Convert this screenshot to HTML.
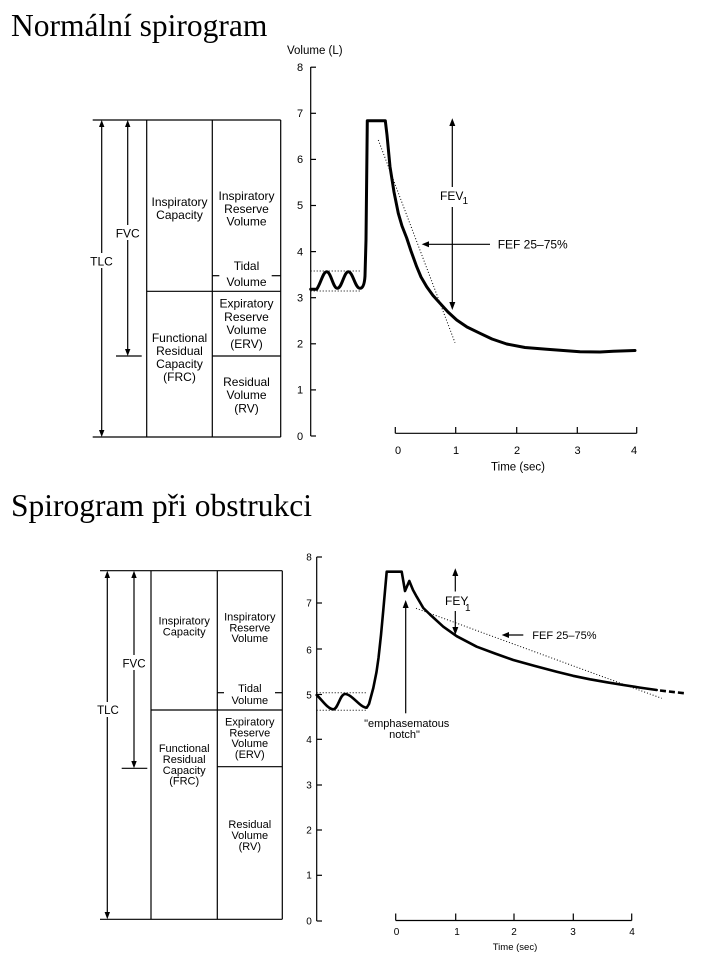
<!DOCTYPE html>
<html>
<head>
<meta charset="utf-8">
<style>
html,body{margin:0;padding:0;background:#fff;}
svg{display:block;}
.t{font-family:"Liberation Sans",Arial,sans-serif;fill:#000;}
.s{font-family:"Liberation Serif","Times New Roman",serif;fill:#000;}
</style>
</head>
<body>
<svg width="720" height="960" viewBox="0 0 720 960" xmlns="http://www.w3.org/2000/svg">
<rect width="720" height="960" fill="#fff"/>

<!-- ================= TOP ================= -->
<text class="s" x="11" y="36" font-size="31.5">Normální spirogram</text>

<g stroke="#000" stroke-width="1.2" fill="none">
  <line x1="92.7" y1="120" x2="280.7" y2="120"/>
  <line x1="92.7" y1="437" x2="280.7" y2="437"/>
  <line x1="146.7" y1="120" x2="146.7" y2="437"/>
  <line x1="212.3" y1="120" x2="212.3" y2="437"/>
  <line x1="280.7" y1="120" x2="280.7" y2="437"/>
  <line x1="146.7" y1="291.3" x2="280.7" y2="291.3"/>
  <line x1="212.3" y1="356" x2="280.7" y2="356"/>
  <line x1="116" y1="356" x2="141.7" y2="356"/>
  <line x1="212.3" y1="275.7" x2="219.3" y2="275.7"/>
  <line x1="271.7" y1="275.7" x2="280.7" y2="275.7"/>
  <line x1="101.7" y1="124" x2="101.7" y2="433"/>
  <line x1="127.7" y1="124" x2="127.7" y2="352"/>
</g>
<g fill="#000">
  <polygon points="101.7,120 99,127 104.4,127"/>
  <polygon points="101.7,437 99,430 104.4,430"/>
  <polygon points="127.7,120 125,127 130.4,127"/>
  <polygon points="127.7,356 125,349 130.4,349"/>
</g>
<rect x="89" y="253" width="25" height="15" fill="#fff"/>
<text class="t" x="101.5" y="265.5" font-size="12" text-anchor="middle">TLC</text>
<rect x="115" y="225" width="26" height="15" fill="#fff"/>
<text class="t" x="127.7" y="237.5" font-size="12" text-anchor="middle">FVC</text>

<g class="t" font-size="12" text-anchor="middle">
  <text x="179.5" y="206">Inspiratory</text>
  <text x="179.5" y="219">Capacity</text>
  <text x="246.5" y="200">Inspiratory</text>
  <text x="246.5" y="213">Reserve</text>
  <text x="246.5" y="225.5">Volume</text>
  <text x="246.5" y="270">Tidal</text>
  <text x="246.5" y="286">Volume</text>
  <text x="246.5" y="307.5">Expiratory</text>
  <text x="246.5" y="321">Reserve</text>
  <text x="246.5" y="334">Volume</text>
  <text x="246.5" y="348">(ERV)</text>
  <text x="179.5" y="342">Functional</text>
  <text x="179.5" y="355">Residual</text>
  <text x="179.5" y="368">Capacity</text>
  <text x="179.5" y="381">(FRC)</text>
  <text x="246.5" y="386">Residual</text>
  <text x="246.5" y="399">Volume</text>
  <text x="246.5" y="412.5">(RV)</text>
</g>

<!-- top chart axes -->
<text class="t" x="287" y="54" font-size="11.5">Volume (L)</text>
<g stroke="#000" stroke-width="1.2" fill="none">
  <line x1="310.7" y1="67" x2="310.7" y2="436"/>
  <line x1="310.7" y1="67.2" x2="316" y2="67.2"/>
  <line x1="310.7" y1="113.3" x2="316" y2="113.3"/>
  <line x1="310.7" y1="159.4" x2="316" y2="159.4"/>
  <line x1="310.7" y1="205.5" x2="316" y2="205.5"/>
  <line x1="310.7" y1="251.6" x2="316" y2="251.6"/>
  <line x1="310.7" y1="297.7" x2="316" y2="297.7"/>
  <line x1="310.7" y1="343.8" x2="316" y2="343.8"/>
  <line x1="310.7" y1="389.9" x2="316" y2="389.9"/>
  <line x1="310.7" y1="436" x2="316" y2="436"/>
  <line x1="395.3" y1="433.3" x2="636.7" y2="433.3"/>
  <line x1="395.3" y1="427" x2="395.3" y2="433.3"/>
  <line x1="455.7" y1="427" x2="455.7" y2="433.3"/>
  <line x1="516.7" y1="427" x2="516.7" y2="433.3"/>
  <line x1="577.3" y1="427" x2="577.3" y2="433.3"/>
  <line x1="636.7" y1="427" x2="636.7" y2="433.3"/>
</g>
<g class="t" font-size="11" text-anchor="middle">
  <text x="300" y="71">8</text>
  <text x="300" y="117">7</text>
  <text x="300" y="163">6</text>
  <text x="300" y="209">5</text>
  <text x="300" y="255.5">4</text>
  <text x="300" y="301.5">3</text>
  <text x="300" y="347.5">2</text>
  <text x="300" y="393.5">1</text>
  <text x="300" y="440">0</text>
  <text x="398" y="454">0</text>
  <text x="456" y="454">1</text>
  <text x="517" y="454">2</text>
  <text x="577.5" y="454">3</text>
  <text x="634" y="454">4</text>
</g>
<text class="t" x="518" y="470.5" font-size="11.5" text-anchor="middle">Time (sec)</text>

<!-- top dotted lines -->
<g stroke="#000" stroke-width="1" stroke-dasharray="1,2" fill="none">
  <line x1="310.7" y1="271" x2="361.7" y2="271"/>
  <line x1="310.7" y1="291" x2="361.7" y2="291"/>
  <line x1="378.3" y1="140" x2="455" y2="342.7"/>
</g>

<!-- top curve -->
<path d="M310.7,289.3 L316.7,289.3 C321,283 323,271.7 326.7,271.7 C331,271.7 333,288.3 337.3,288.3 C342,288.3 344,271.7 348.3,271.7 C353,271.7 355,288.3 360,288.3 C363,288.3 364.5,284 365,276 L366,240 L367.3,120.7 L385.3,120.7 L387,135 L390,166.7 L394,192 L398.3,213.3 L402,226 L406.7,238 L411,251 L416.7,266.7 L421,277 L426.7,286.7 L433,295.5 L440,303.3 L448,312 L456.7,320 L467,327 L480,333.3 L492,339 L506.7,344 L525,347.5 L546.7,349.3 L580,351.7 L600,352 L613.3,351.3 L635,350.5"
 stroke="#000" stroke-width="3" fill="none" stroke-linejoin="round" stroke-linecap="round"/>

<!-- FEV1 arrow top -->
<g stroke="#000" stroke-width="1.2">
  <line x1="452.3" y1="124" x2="452.3" y2="187"/>
  <line x1="452.3" y1="207" x2="452.3" y2="304"/>
  <line x1="427" y1="244.3" x2="490" y2="244.3"/>
</g>
<g fill="#000">
  <polygon points="452.3,118.3 449.3,126 455.3,126"/>
  <polygon points="452.3,310 449.3,302 455.3,302"/>
  <polygon points="421.7,244.3 429,241.3 429,247.3"/>
</g>
<text class="t" x="440" y="200" font-size="12">FEV</text>
<text class="t" x="462.5" y="204" font-size="10">1</text>
<text class="t" x="497.7" y="248.5" font-size="12">FEF 25–75%</text>

<!-- ================= BOTTOM ================= -->
<text class="s" x="11" y="516" font-size="31.5">Spirogram při obstrukci</text>

<g stroke="#000" stroke-width="1.2" fill="none">
  <line x1="100" y1="570.7" x2="282.3" y2="570.7"/>
  <line x1="100" y1="919.3" x2="282.3" y2="919.3"/>
  <line x1="151" y1="570.7" x2="151" y2="919.3"/>
  <line x1="217.3" y1="570.7" x2="217.3" y2="919.3"/>
  <line x1="282.3" y1="570.7" x2="282.3" y2="919.3"/>
  <line x1="151" y1="710" x2="282.3" y2="710"/>
  <line x1="217.3" y1="766.7" x2="282.3" y2="766.7"/>
  <line x1="121.7" y1="768.3" x2="147.3" y2="768.3"/>
  <line x1="217.3" y1="692.7" x2="224" y2="692.7"/>
  <line x1="275" y1="692.7" x2="282.3" y2="692.7"/>
  <line x1="107.3" y1="575" x2="107.3" y2="915"/>
  <line x1="134" y1="575" x2="134" y2="764"/>
</g>
<g fill="#000">
  <polygon points="107.3,570.7 104.6,578 110,578"/>
  <polygon points="107.3,919.3 104.6,912 110,912"/>
  <polygon points="134,570.7 131.3,578 136.7,578"/>
  <polygon points="134,768.3 131.3,761 136.7,761"/>
</g>
<rect x="96" y="702" width="24" height="15" fill="#fff"/>
<text class="t" x="108" y="714" font-size="11.5" text-anchor="middle">TLC</text>
<rect x="122" y="655" width="24" height="15" fill="#fff"/>
<text class="t" x="134" y="667.5" font-size="11.5" text-anchor="middle">FVC</text>

<g class="t" font-size="11" text-anchor="middle">
  <text x="184.2" y="624.5">Inspiratory</text>
  <text x="184.2" y="635.5">Capacity</text>
  <text x="249.8" y="620.5">Inspiratory</text>
  <text x="249.8" y="631.5">Reserve</text>
  <text x="249.8" y="642">Volume</text>
  <text x="249.8" y="692">Tidal</text>
  <text x="249.8" y="704">Volume</text>
  <text x="249.8" y="725.5">Expiratory</text>
  <text x="249.8" y="736.5">Reserve</text>
  <text x="249.8" y="747">Volume</text>
  <text x="249.8" y="758">(ERV)</text>
  <text x="184.2" y="752">Functional</text>
  <text x="184.2" y="763">Residual</text>
  <text x="184.2" y="774">Capacity</text>
  <text x="184.2" y="784.5">(FRC)</text>
  <text x="249.8" y="828">Residual</text>
  <text x="249.8" y="839">Volume</text>
  <text x="249.8" y="850">(RV)</text>
</g>

<!-- bottom chart axes -->
<g stroke="#000" stroke-width="1.2" fill="none">
  <line x1="316.7" y1="557" x2="316.7" y2="921"/>
  <line x1="316.7" y1="557" x2="322" y2="557"/>
  <line x1="316.7" y1="603" x2="322" y2="603"/>
  <line x1="316.7" y1="649" x2="322" y2="649"/>
  <line x1="316.7" y1="694.5" x2="322" y2="694.5"/>
  <line x1="316.7" y1="739.3" x2="322" y2="739.3"/>
  <line x1="316.7" y1="785" x2="322" y2="785"/>
  <line x1="316.7" y1="830" x2="322" y2="830"/>
  <line x1="316.7" y1="875.3" x2="322" y2="875.3"/>
  <line x1="316.7" y1="921" x2="322" y2="921"/>
  <line x1="395.7" y1="920.5" x2="631.7" y2="920.5"/>
  <line x1="395.7" y1="913.5" x2="395.7" y2="920.5"/>
  <line x1="455.7" y1="913.5" x2="455.7" y2="920.5"/>
  <line x1="514" y1="913.5" x2="514" y2="920.5"/>
  <line x1="573.3" y1="913.5" x2="573.3" y2="920.5"/>
  <line x1="631.7" y1="913.5" x2="631.7" y2="920.5"/>
</g>
<g class="t" font-size="10" text-anchor="middle">
  <text x="309" y="560.5">8</text>
  <text x="309" y="606.5">7</text>
  <text x="309" y="653.5">6</text>
  <text x="309" y="698.5">5</text>
  <text x="309" y="743">4</text>
  <text x="309" y="788.5">3</text>
  <text x="309" y="833.5">2</text>
  <text x="309" y="878.5">1</text>
  <text x="309" y="924.5">0</text>
  <text x="396.5" y="935">0</text>
  <text x="457" y="935">1</text>
  <text x="514" y="935">2</text>
  <text x="573" y="935">3</text>
  <text x="632" y="935">4</text>
</g>
<text class="t" x="515" y="950" font-size="9.5" text-anchor="middle">Time (sec)</text>

<!-- bottom dotted lines -->
<g stroke="#000" stroke-width="1" stroke-dasharray="1,2" fill="none">
  <line x1="316.7" y1="692.7" x2="366.7" y2="692.7"/>
  <line x1="316.7" y1="710.3" x2="366.7" y2="710.3"/>
  <line x1="416" y1="608.3" x2="661.7" y2="698.3"/>
</g>

<!-- bottom curve -->
<path d="M316.7,695 C322,700 328,709.3 333.3,709.3 C338,709.3 340,694 345,694 C352,694 360,707.7 366.7,707.7 L369,704 L373.3,688 L376.5,672 L378.5,658 L381,635 L383.3,610 L386.7,571.7 L401.7,571.7 L405,591 L409.3,581 L413,590 L416.7,596.7 L423.3,608 L430,614.5 L443.3,626.7 L456.7,636.2 L476.7,646.7 L495,653.5 L513.3,660 L535,666 L556.7,671.7 L573,675.8 L590,679.3 L607,682.3 L623.3,685 L640,687.6 L656.7,690"
 stroke="#000" stroke-width="2.6" fill="none" stroke-linejoin="round" stroke-linecap="round"/>
<path d="M660,690.5 L685,693.3" stroke="#000" stroke-width="2.6" stroke-dasharray="6,3" fill="none"/>

<!-- bottom arrows -->
<g stroke="#000" stroke-width="1.2">
  <line x1="455.3" y1="574" x2="455.3" y2="591.5"/>
  <line x1="455.3" y1="611" x2="455.3" y2="629"/>
  <line x1="507" y1="635" x2="523.3" y2="635"/>
  <line x1="405.7" y1="606" x2="405.7" y2="713.3"/>
</g>
<g fill="#000">
  <polygon points="455.3,568.3 452.3,576 458.3,576"/>
  <polygon points="455.3,635 452.3,627 458.3,627"/>
  <polygon points="501.7,635 509,632 509,638"/>
  <polygon points="405.7,600 402.7,608 408.7,608"/>
</g>
<text class="t" x="445" y="605" font-size="12">FEY</text>
<text class="t" x="465" y="611" font-size="10">1</text>
<text class="t" x="532.3" y="639" font-size="11">FEF 25–75%</text>
<text class="t" x="406.7" y="727" font-size="11" text-anchor="middle">"emphasematous</text>
<text class="t" x="404.5" y="738" font-size="11" text-anchor="middle">notch"</text>
</svg>
</body>
</html>
